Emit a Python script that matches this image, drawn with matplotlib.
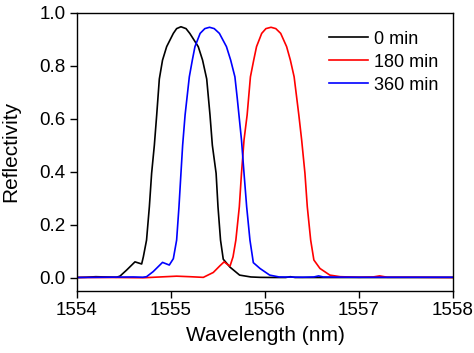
import matplotlib
matplotlib.use("Agg")
import matplotlib.pyplot as plt

plt.rcParams['font.family'] = ['Liberation Sans', 'DejaVu Sans']

# 0 min
wl_0 = [1554.0, 1554.1, 1554.2, 1554.3, 1554.42, 1554.457, 1554.528, 1554.617, 1554.688, 1554.706,
        1554.74, 1554.77, 1554.794, 1554.823, 1554.848, 1554.876, 1554.91, 1554.954, 1555.025, 1555.06,
        1555.106, 1555.16, 1555.20, 1555.29, 1555.336, 1555.38, 1555.415, 1555.44, 1555.48, 1555.50,
        1555.527, 1555.556, 1555.628, 1555.73, 1555.85, 1555.95, 1556.1, 1556.22, 1556.27, 1556.32,
        1556.6, 1557.0, 1557.5, 1558.0]
r_0 = [0.001, 0.002, 0.004, 0.003, 0.002, 0.006, 0.029, 0.060, 0.052, 0.079,
       0.142, 0.268, 0.394, 0.50, 0.614, 0.75, 0.821, 0.872, 0.922, 0.94,
       0.947, 0.94, 0.922, 0.872, 0.821, 0.75, 0.614, 0.50, 0.394, 0.268,
       0.142, 0.070, 0.040, 0.010, 0.003, 0.0015, 0.001, 0.001, 0.004, 0.001,
       0.001, 0.001, 0.001, 0.001]

# 180 min
wl_180 = [1554.0, 1554.4, 1554.706, 1555.06, 1555.2, 1555.344, 1555.45, 1555.52, 1555.565, 1555.61,
          1555.628, 1555.66, 1555.69, 1555.727, 1555.75, 1555.777, 1555.81, 1555.845, 1555.88, 1555.91,
          1555.965, 1556.01, 1556.064, 1556.115, 1556.167, 1556.23, 1556.27, 1556.31, 1556.36, 1556.39,
          1556.425, 1556.45, 1556.486, 1556.52, 1556.585, 1556.69, 1556.80, 1557.0, 1557.15, 1557.22,
          1557.3, 1557.6, 1558.0]
r_180 = [0.001, 0.001, 0.0, 0.006, 0.004, 0.0015, 0.02, 0.045, 0.060, 0.048,
         0.044, 0.079, 0.142, 0.268, 0.394, 0.52, 0.614, 0.758, 0.821, 0.872,
         0.922, 0.94, 0.945, 0.94, 0.922, 0.872, 0.821, 0.758, 0.614, 0.52,
         0.394, 0.268, 0.142, 0.067, 0.035, 0.010, 0.004, 0.002, 0.003, 0.007,
         0.002, 0.002, 0.001]

# 360 min
wl_360 = [1554.0, 1554.3, 1554.6, 1554.7, 1554.74, 1554.81, 1554.91, 1554.982, 1555.025, 1555.06,
          1555.085, 1555.106, 1555.124, 1555.15, 1555.195, 1555.227, 1555.255, 1555.31, 1555.36, 1555.41,
          1555.46, 1555.515, 1555.59, 1555.635, 1555.68, 1555.705, 1555.75, 1555.777, 1555.805, 1555.84,
          1555.876, 1555.947, 1556.05, 1556.15, 1556.4, 1556.52, 1556.57, 1556.62, 1557.0, 1557.5, 1558.0]
r_360 = [0.001, 0.002, 0.003, 0.002, 0.004, 0.023, 0.058, 0.048, 0.072, 0.142,
         0.268, 0.394, 0.50, 0.614, 0.758, 0.821, 0.872, 0.922, 0.94, 0.945,
         0.94, 0.922, 0.872, 0.821, 0.758, 0.677, 0.52, 0.394, 0.268, 0.142,
         0.057, 0.035, 0.010, 0.003, 0.002, 0.003, 0.007, 0.003, 0.002, 0.002, 0.002]

labels = ['0 min', '180 min', '360 min']
colors = ['black', '#ff0000', '#0000ff']

x_ticks = [1554, 1555, 1556, 1557, 1558]
y_ticks = [0.0, 0.2, 0.4, 0.6, 0.8, 1.0]

fig = plt.figure(figsize=(4.74, 3.53), dpi=100)
ax = fig.add_axes([0.1624, 0.1756, 0.7933, 0.7884])

for wl, r, lab, c in zip([wl_0, wl_180, wl_360], [r_0, r_180, r_360], labels, colors):
    ax.plot(wl, r, color=c, lw=1.2, label=lab)

ax.set_xlim(1554, 1558)
ax.set_ylim(-0.05, 1.0)
ax.set_xticks(x_ticks)
ax.set_xticklabels([str(t) for t in x_ticks])
ax.set_yticks(y_ticks)
ax.set_yticklabels([f"{t:.1f}" for t in y_ticks])
ax.tick_params(direction='out', length=5, width=1, labelsize=13.5, pad=3)
for s in ax.spines.values():
    s.set_linewidth(1.0)

ax.set_xlabel('Wavelength (nm)', fontsize=15, labelpad=5)
ax.set_ylabel('Reflectivity', fontsize=15, labelpad=14)

ax.legend(loc='upper right', frameon=False, fontsize=13, handlelength=2.2,
          handletextpad=0.31, labelspacing=0.34, borderpad=0, borderaxespad=0,
          bbox_to_anchor=(0.961, 0.936))

fig.savefig('out.png', dpi=100)
